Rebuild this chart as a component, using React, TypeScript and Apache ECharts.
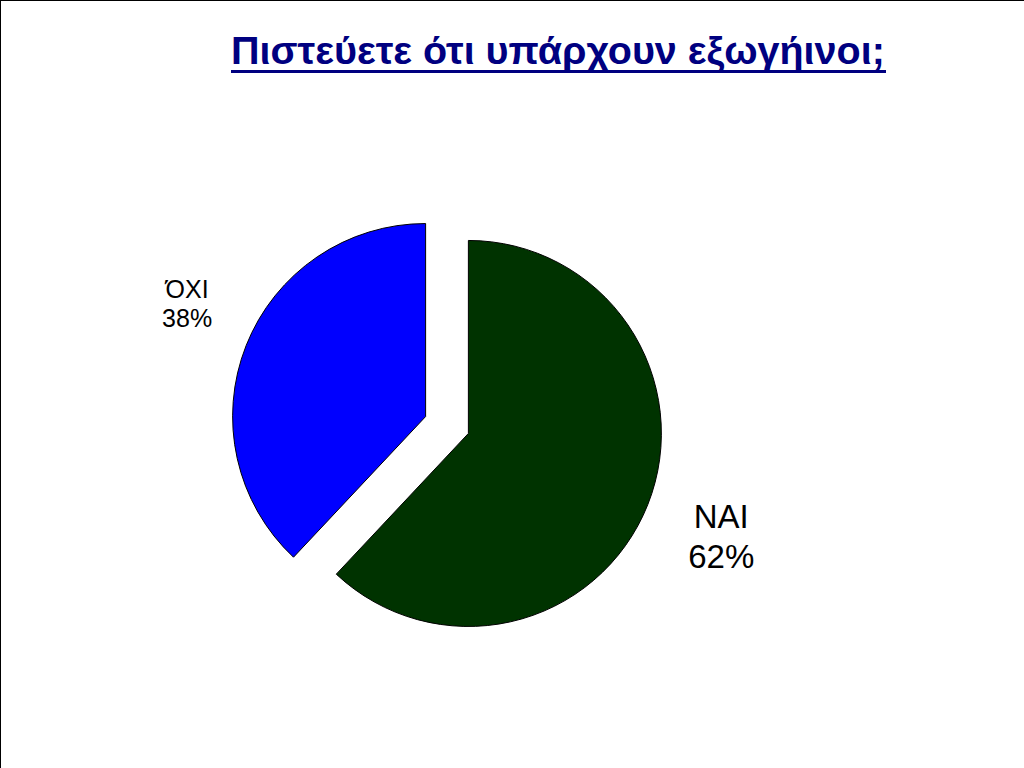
import { useEffect, useRef } from 'react';
import * as echarts from 'echarts';
import type { ECharts, EChartsOption } from 'echarts';

// 数据
const answers = ['ΝΑΙ', 'ΌΧΙ'];
const shares = [62, 38];
const sliceColors = ['#003300', '#0000ff'];

// 标签样式（每个扇区）
const labelSizes = [33, 25];
const labelLineHeights = [40, 29];
const labelWidths = [90, 70];
const labelLengths = [80, 70];
const labelNudges = [[-1, 3], [6, -16]];

const TITLE = 'Πιστεύετε ότι υπάρχουν εξωγήινοι;';
const FONT = 'Liberation Sans, Arial, sans-serif';

const App = () => {
    const chartRef = useRef<HTMLDivElement>(null);
    const chartInstance = useRef<ECharts | null>(null);

    useEffect(() => {
        document.body.style.margin = '0';
        if (!chartRef.current) return;
        chartInstance.current = echarts.init(chartRef.current, null, { renderer: 'svg' });

        const option: EChartsOption = {
            animation: false,
            backgroundColor: '#ffffff',
            title: {
                text: TITLE,
                left: 226,
                top: 25,
                textStyle: {
                    fontFamily: FONT,
                    fontSize: 39.5,
                    fontWeight: 'bold',
                    color: '#000080'
                }
            },
            graphic: [
                // 标题下划线
                { type: 'rect', left: 231, top: 70, shape: { width: 655, height: 3 }, style: { fill: '#000080' } },
                // 左上边框
                { type: 'rect', left: 0, top: 0, shape: { width: 1024, height: 1 }, style: { fill: '#000' } },
                { type: 'rect', left: 0, top: 0, shape: { width: 1, height: 768 }, style: { fill: '#000' } }
            ],
            series: [
                {
                    type: 'pie',
                    center: [447, 425],
                    radius: 193,
                    startAngle: 90,
                    clockwise: true,
                    selectedMode: 'multiple',
                    selectedOffset: 23,
                    emphasis: { disabled: true },
                    itemStyle: { borderColor: '#000000', borderWidth: 1 },
                    labelLine: { show: false, length2: 0 },
                    label: {
                        position: 'outside',
                        distanceToLabelLine: 0,
                        formatter: '{n|{b}}\n{n|{d}%}',
                        fontFamily: FONT,
                        color: '#000'
                    },
                    labelLayout: (params: any) => ({
                        align: 'center',
                        verticalAlign: 'middle',
                        dx: labelNudges[params.dataIndex][0],
                        dy: labelNudges[params.dataIndex][1]
                    }),
                    data: answers.map((name, i) => ({
                        name,
                        value: shares[i],
                        selected: true,
                        itemStyle: { color: sliceColors[i] },
                        labelLine: { show: false, length: labelLengths[i], length2: 0 },
                        label: {
                            rich: {
                                n: {
                                    fontSize: labelSizes[i],
                                    lineHeight: labelLineHeights[i],
                                    width: labelWidths[i],
                                    align: 'center',
                                    fontFamily: FONT,
                                    color: '#000'
                                }
                            }
                        }
                    }))
                }
            ]
        };

        chartInstance.current.setOption(option);

        return () => {
            chartInstance.current?.dispose();
            chartInstance.current = null;
        };
    }, []);

    return <div ref={chartRef} style={{ width: '1024px', height: '768px' }} />;
};

export default App;
